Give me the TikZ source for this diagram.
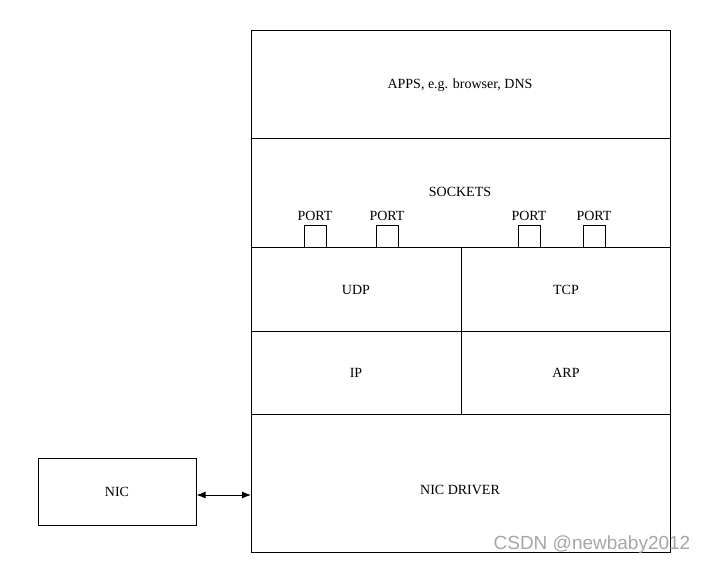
\documentclass[tikz,border=0pt]{standalone}
\usepackage{fontspec}
\setmainfont{Liberation Serif}
\newfontfamily\wm{Liberation Sans}
\usetikzlibrary{arrows.meta}
\begin{document}
\begin{tikzpicture}[x=1pt,y=-1pt,line width=1pt,
  lbl/.style={font=\fontsize{14}{16}\selectfont},
  portbox/.style={draw,minimum width=22pt,minimum height=22pt,inner sep=0pt,anchor=south}]
\useasboundingbox (0,0) rectangle (705,567);
\draw (251,31) rectangle (670,552);
\foreach \y in {139,248,331,414} \draw (251,\y) -- (670,\y);
\draw (461,248) -- (461,414);
\node[lbl] (apps) at (460,85) {APPS, e.g. browser, DNS};
\node[lbl] (sock) at (460,192) {SOCKETS};
\foreach \x/\n in {315/a,387/b,529/c,594/d}{
  \node[portbox] (p\n) at (\x,248) {};
  \node[lbl,above=1pt] (pl\n) at (p\n.north) {PORT};
}
\node[lbl] (udp) at (356,290) {UDP};
\node[lbl] (tcp) at (566,290) {TCP};
\node[lbl] (ip) at (356,373) {IP};
\node[lbl] (arp) at (566,373) {ARP};
\node[lbl] (drv) at (460,490) {NIC DRIVER};
\node[draw,minimum width=158pt,minimum height=67pt,lbl] (nic) at (117,491.5) {NIC};
\coordinate (drvl) at (251,495);
\draw[{Latex[length=9pt,width=7pt]}-{Latex[length=9pt,width=7pt]}] (nic.east |- drvl) -- (drvl);
\node[font=\wm\fontsize{19}{21}\selectfont,text=gray!70] (wmk) at (592,545) {CSDN @newbaby2012};
\end{tikzpicture}
\end{document}
